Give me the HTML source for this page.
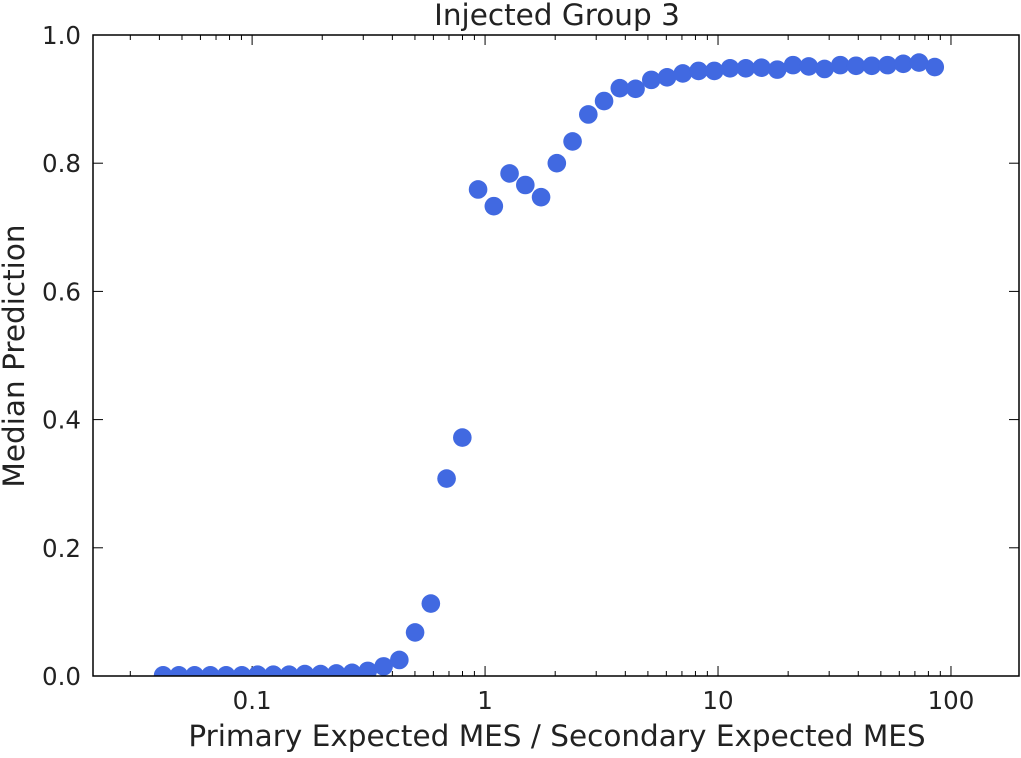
<!DOCTYPE html>
<html><head><meta charset="utf-8"><style>
body{margin:0;background:#fff;}
svg text{font-family:"DejaVu Sans","Liberation Sans",sans-serif;fill:#222;}
</style></head><body>
<svg id="chart" width="1021" height="753" viewBox="0 0 1021 753">
<defs><clipPath id="plotclip"><rect x="93" y="35" width="926" height="641"/></clipPath></defs>
<text x="557" y="25" font-size="29.5" text-anchor="middle">Injected Group 3</text>
<text x="557" y="746" font-size="29.5" text-anchor="middle">Primary Expected MES / Secondary Expected MES</text>
<text transform="translate(24,356) rotate(-90)" font-size="29.5" text-anchor="middle">Median Prediction</text>
<g id="axes"></g>
<g id="points" clip-path="url(#plotclip)"></g>
<rect x="93" y="35" width="926" height="641" fill="none" stroke="#000" stroke-width="1.5"/>
</svg>
<script>
const xStartLog = -1.382;
const xStepLog = 0.0676;
const yValues = [0.001,0.001,0.001,0.001,0.001,0.001,0.002,0.002,0.002,0.003,0.003,0.004,0.005,0.008,0.015,0.025,0.068,0.113,0.308,0.372,0.759,0.733,0.784,0.766,0.747,0.800,0.834,0.876,0.897,0.917,0.916,0.930,0.934,0.940,0.944,0.944,0.948,0.948,0.949,0.946,0.953,0.951,0.947,0.953,0.952,0.952,0.953,0.955,0.957,0.950];
const xValues = yValues.map((v,i)=>Math.pow(10, xStartLog + i*xStepLog));
const xTickValues = [0.1,1,10,100];
const xTickLabels = ["0.1","1","10","100"];
const yTickValues = [0,0.2,0.4,0.6,0.8,1.0];
const yTickLabels = ["0.0","0.2","0.4","0.6","0.8","1.0"];

const L=93,R=1019,T=35,B=676;
const xLogMin=-1.683, xLogMax=2.292;
const xs=v=>L+(Math.log10(v)-xLogMin)/(xLogMax-xLogMin)*(R-L);
const ys=v=>B-v*(B-T);
const NS="http://www.w3.org/2000/svg";
const axes=document.getElementById('axes');
function line(x1,y1,x2,y2,name){const l=document.createElementNS(NS,'line');
l.setAttribute('x1',x1);l.setAttribute('y1',y1);l.setAttribute('x2',x2);l.setAttribute('y2',y2);
l.setAttribute('stroke','#000');l.setAttribute('stroke-width','1');


axes.appendChild(l);}
function text(x,y,s,anchor,name){const t=document.createElementNS(NS,'text');
t.setAttribute('x',x);t.setAttribute('y',y);t.setAttribute('font-size','24.5');t.setAttribute('text-anchor',anchor);t.textContent=s;


axes.appendChild(t);}
for(let d=-2;d<=2;d++){for(let m=2;m<=9;m++){const v=m*Math.pow(10,d);const lv=Math.log10(v);
 if(lv<xLogMin||lv>xLogMax)continue;const x=xs(v);line(x,B,x,B-5,'x-minor-tick');line(x,T,x,T+5,'x-minor-tick');}}
xTickValues.forEach((v,i)=>{const x=xs(v);line(x,B,x,B-10,'x-major-tick');line(x,T,x,T+10,'x-major-tick');text(x,B+33,xTickLabels[i],'middle','x-tick-label');});
yTickValues.forEach((v,i)=>{const y=ys(v);line(L,y,L+10,y,'y-major-tick');line(R,y,R-10,y,'y-major-tick');text(L-12,y+9,yTickLabels[i],'end','y-tick-label');});
const pts=document.getElementById('points');
yValues.forEach((v,i)=>{const c=document.createElementNS(NS,'circle');
c.setAttribute('cx',xs(xValues[i]));c.setAttribute('cy',ys(v));c.setAttribute('r','9.3');c.setAttribute('fill','#4169e1');


pts.appendChild(c);});
</script>
</body></html>
